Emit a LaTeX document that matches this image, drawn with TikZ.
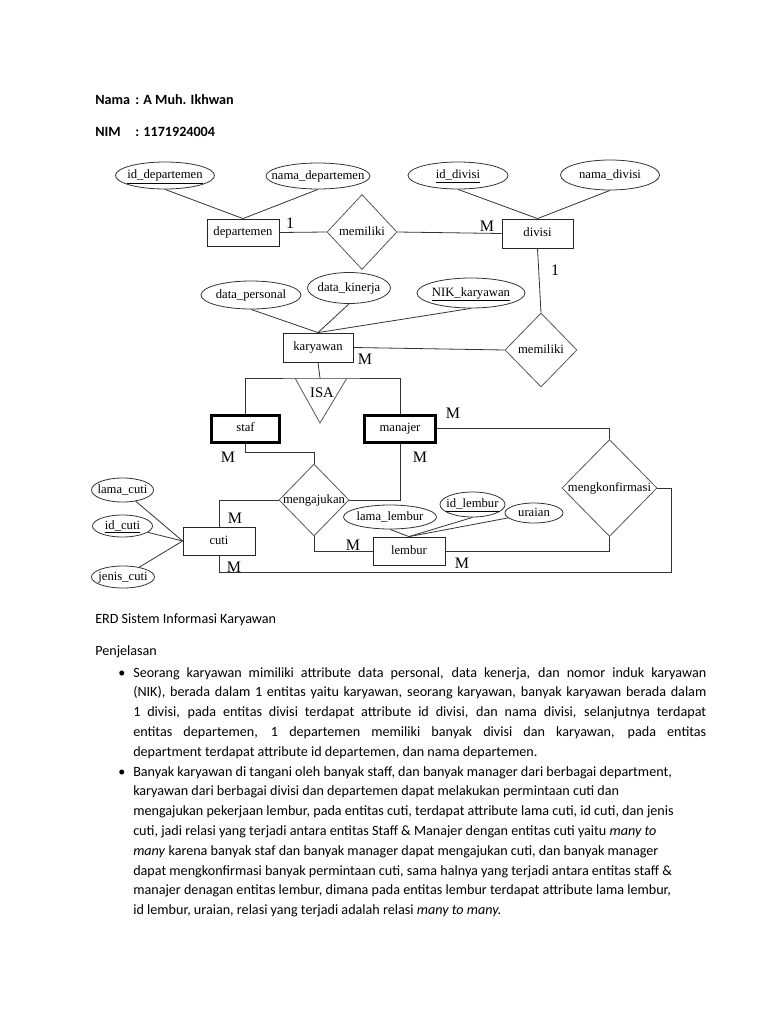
\documentclass[tikz,border=0pt]{standalone}
\usepackage{fontspec}
\setmainfont{Carlito}
\newfontfamily\tnr{Liberation Serif}
\usetikzlibrary{shapes.geometric}
\newcommand\attrnode[6]{\node[attr, wh={#4}{#5}] (#1) at (#2,#3) {}; \node[dtxt] (#1-t) at (#1) {#6};}
\newcommand\relnode[6]{\node[rel, wh={#4}{#5}] (#1) at (#2,#3) {}; \node[dtxt] (#1-t) at (#1) {#6};}
\newcommand\jline[1]{\hbox to 429.75pt{#1}}
\begin{document}
\begin{tikzpicture}[x=0.75pt,y=-0.75pt,
  ln/.style={draw=black!80, line width=0.6pt},
  wh/.style 2 args={minimum width=#1*0.75pt, minimum height=#2*0.75pt},
  dtxt/.style={inner sep=0pt, text height=6.5pt, text depth=2pt, font=\tnr\fontsize{9.5}{11}\selectfont},
  ent/.style={draw=black!85, line width=0.6pt, rectangle, inner sep=0pt, text height=6.5pt, text depth=2pt, font=\tnr\fontsize{9.5}{11}\selectfont},
  went/.style={ent, draw=black, line width=2.25pt},
  attr/.style={draw=black!80, line width=0.6pt, ellipse, inner sep=0pt},
  rel/.style={draw=black!65, line width=0.6pt, diamond, inner sep=0pt},
  card/.style={inner sep=0pt, font=\tnr\fontsize{12}{14}\selectfont},
  body/.style={anchor=base west, inner sep=0pt, font=\fontsize{10.6}{14.85}\selectfont},
  head/.style={body, font=\fontsize{10.6}{14.85}\selectfont\bfseries},
]
\useasboundingbox[fill=white] (0,0) rectangle (768,1024);

% header
\node[head] (nama) at (95,104) {Nama};
\node[head] (nama2) at (135,104) {: A Muh. Ikhwan};
\node[head] (nim) at (95,136) {NIM};
\node[head] (nim2) at (135,136) {: 1171924004};

% entities
\node[ent, wh={72}{27}] (dep) at (243,232.5) {departemen};
\node[ent, wh={71}{29}] (div) at (537.5,233.5) {divisi};
\node[ent, wh={70}{29}] (kar) at (318,347.5) {karyawan};
\node[went, wh={68}{27}] (staf) at (245.5,428.5) {staf};
\node[went, wh={71}{27}] (man) at (400,428.5) {manajer};
\node[ent, wh={72}{28}] (cuti) at (219,541) {cuti};
\node[ent, wh={72}{28}] (lem) at (409,551) {lembur};

% relationships
\relnode{m1}{362}{232}{70}{75}{memiliki}
\relnode{m2}{541}{350}{72}{74}{memiliki}
\relnode{maj}{314}{500}{70}{72}{mengajukan}
\relnode{mk}{609.5}{488}{95}{97}{mengkonfirmasi}

% attributes
\attrnode{idd}{165}{175.5}{99}{27}{\underline{id\_departemen}}
\attrnode{nd}{318}{176}{104}{26}{nama\_departemen}
\attrnode{idv}{458}{175.5}{100}{27}{\underline{id\_divisi}}
\attrnode{nv}{610}{175}{99}{30}{nama\_divisi}
\attrnode{dp}{251}{295}{100}{28}{data\_personal}
\attrnode{dk}{349}{288}{83}{31}{data\_kinerja}
\attrnode{nik}{471}{293}{108}{30}{\underline{NIK\_karyawan}}
\attrnode{lc}{122.5}{490}{62}{24}{lama\_cuti}
\attrnode{ic}{122.5}{526}{60}{22}{\underline{id\_cuti}}
\attrnode{jc}{123}{577}{63}{22}{jenis\_cuti}
\attrnode{ll}{390}{517}{93}{24}{lama\_lembur}
\attrnode{il}{472.5}{504.5}{65}{25}{\underline{id\_lembur}}
\attrnode{ur}{534}{513}{58}{20}{uraian}

% attribute links
\draw[ln] (idd.south) -- (dep.north);
\draw[ln] (nd.south) -- (dep.north);
\draw[ln] (idv.south) -- (div.north);
\draw[ln] (nv.south) -- (div.north);
\draw[ln] (dp.south) -- (kar.north);
\draw[ln] (dk.south) -- (kar.north);
\draw[ln] (nik.south) -- (kar.north);
\draw[ln] (lc) -- (cuti.west);
\draw[ln] (ic) -- (cuti.west);
\draw[ln] (jc) -- (cuti.west);
\draw[ln] (ll.south) -- (lem.north);
\draw[ln] (il.south) -- (lem.north);
\draw[ln] (ur) -- (lem.north);

% relationship links
\draw[ln] (dep.east) -- (m1.west);
\draw[ln] (m1.east) -- (div.west);
\draw[ln] (div.south) -- (m2.north);
\draw[ln] (kar.east) -- (m2.west);

% ISA
\coordinate (isaTop) at (320,378);
\coordinate (isaL) at (295,378);
\coordinate (isaR) at (347,378);
\coordinate (isaB) at (320,423);
\draw[ln] (kar.south) -- (isaTop);
\draw[ln] (staf.north) |- (isaTop) -| (man.north);
\draw[draw=black!65, line width=0.6pt] (isaL) -- (isaB) -- (isaR);
\node[inner sep=0pt, font=\tnr\fontsize{11}{13}\selectfont] (isa) at (322,393) {ISA};

% mengajukan / mengkonfirmasi
\coordinate (rb) at (671,572);
\draw[ln] (staf.south) -- ++(0,9) -| (maj.north);
\draw[ln] (man.south) |- (maj.east);
\draw[ln] (maj.west) -| (cuti.north);
\draw[ln] (maj.south) |- (lem.west);
\draw[ln] (man.east) -| (mk.north);
\draw[ln] (mk.south) |- (lem.east);
\draw[ln] (cuti.south) |- (rb) |- (mk.east);

% cardinalities
\node[card] (c1) at (290,223) {1};
\node[card] (c2) at (487,226) {M};
\node[card] (c3) at (555,270) {1};
\node[card] (c4) at (365,359) {M};
\node[card] (c5) at (228,457) {M};
\node[card] (c6) at (420,457) {M};
\node[card] (c7) at (453,413) {M};
\node[card] (c8) at (235,518) {M};
\node[card] (c9) at (234,567) {M};
\node[card] (c10) at (353,545) {M};
\node[card] (c11) at (462,563) {M};

% text
\node[body] (erd) at (95,623) {ERD Sistem Informasi Karyawan};
\node[body] (pj) at (95,655) {Penjelasan};

\node[body] (b1) at (118,677) {•};
\node[body] (p1a) at (133,677) {\jline{Seorang karyawan mimiliki attribute data personal, data kenerja, dan nomor induk karyawan}};
\node[body] (p1b) at (133,696.8) {\jline{(NIK), berada dalam 1 entitas yaitu karyawan, seorang karyawan, banyak karyawan berada dalam}};
\node[body] (p1c) at (133,716.6) {\jline{1 divisi, pada entitas divisi terdapat attribute id divisi, dan nama divisi, selanjutnya terdapat}};
\node[body] (p1d) at (133,736.4) {\jline{entitas departemen, 1 departemen memiliki banyak divisi dan karyawan, pada entitas}};
\node[body] (p1e) at (133,756.2) {department terdapat attribute id departemen, dan nama departemen.};

\node[body] (b2) at (118,776) {•};
\node[body] (p2a) at (133,776) {Banyak karyawan di tangani oleh banyak staff, dan banyak manager dari berbagai department,};
\node[body] (p2b) at (133,795.8) {karyawan dari berbagai divisi dan departemen dapat melakukan permintaan cuti dan};
\node[body] (p2c) at (133,815.6) {mengajukan pekerjaan lembur, pada entitas cuti, terdapat attribute lama cuti, id cuti, dan jenis};
\node[body] (p2d) at (133,835.4) {cuti, jadi relasi yang terjadi antara entitas Staff \& Manajer dengan entitas cuti yaitu \textit{many to}};
\node[body] (p2e) at (133,855.2) {\textit{many} karena banyak staf dan banyak manager dapat mengajukan cuti, dan banyak manager};
\node[body] (p2f) at (133,875) {dapat mengkonfirmasi banyak permintaan cuti, sama halnya yang terjadi antara entitas staff \&};
\node[body] (p2g) at (133,894.8) {manajer denagan entitas lembur, dimana pada entitas lembur terdapat attribute lama lembur,};
\node[body] (p2h) at (133,914.6) {id lembur, uraian, relasi yang terjadi adalah relasi \textit{many to many.}};
\end{tikzpicture}
\end{document}
